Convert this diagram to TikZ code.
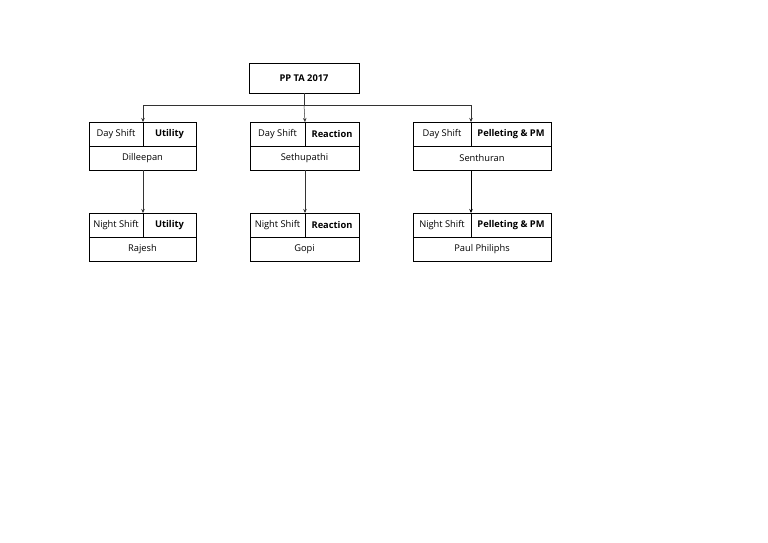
\documentclass[tikz,border=0pt]{standalone}
\usepackage{fontspec}
\setmainfont{Open Sans}
\usetikzlibrary{arrows.meta,positioning,calc}

\begin{document}
\begin{tikzpicture}[
        x=1pt,y=1pt,
        cell/.style={draw,line width=0.7pt,font=\fontsize{9.3}{11}\selectfont,minimum height=24pt,inner sep=1pt,outer sep=0pt,anchor=north west},
        head/.style={cell,font=\fontsize{9.3}{11}\selectfont\bfseries},
        arr/.style={-{Stealth[length=4pt,width=3.5pt]},line width=0.5pt,black!80}
      ]
      \useasboundingbox (0,0) rectangle (768,-543);

      % top box
      \node[draw,line width=0.7pt,font=\fontsize{9.3}{11}\selectfont\bfseries,minimum width=110pt,minimum height=30pt,outer sep=0pt] (top) at (304,-78) {PP TA 2017};

      % day shift
      \node[cell,minimum width=54pt] (dayL1) at (89,-122) {Day Shift};
      \node[head,minimum width=53pt,right=0pt of dayL1] (dayR1) {Utility};
      \node[cell,minimum width=107pt] (dayN1) at (dayL1.south west) {Dilleepan};

      \node[cell,minimum width=55pt] (dayL2) at (250,-122) {Day Shift};
      \node[head,minimum width=54pt,right=0pt of dayL2] (dayR2) {Reaction};
      \node[cell,minimum width=109pt] (dayN2) at (dayL2.south west) {Sethupathi};

      \node[cell,minimum width=58pt] (dayL3) at (413,-122) {Day Shift};
      \node[head,minimum width=80pt,right=0pt of dayL3] (dayR3) {Pelleting \& PM};
      \node[cell,minimum width=138pt] (dayN3) at (dayL3.south west) {Senthuran};

      % night shift
      \node[cell,minimum width=54pt] (nightL1) at (89,-213) {Night Shift};
      \node[head,minimum width=53pt,right=0pt of nightL1] (nightR1) {Utility};
      \node[cell,minimum width=107pt] (nightN1) at (nightL1.south west) {Rajesh};

      \node[cell,minimum width=55pt] (nightL2) at (250,-213) {Night Shift};
      \node[head,minimum width=54pt,right=0pt of nightL2] (nightR2) {Reaction};
      \node[cell,minimum width=109pt] (nightN2) at (nightL2.south west) {Gopi};

      \node[cell,minimum width=58pt] (nightL3) at (413,-213) {Night Shift};
      \node[head,minimum width=80pt,right=0pt of nightL3] (nightR3) {Pelleting \& PM};
      \node[cell,minimum width=138pt] (nightN3) at (nightL3.south west) {Paul Philiphs};

      % connectors
      \coordinate (hub) at ($(top.south)+(0,-12)$);
      \draw[line width=0.5pt,black!80] (top.south) -- (hub);
      \draw[arr] (hub) -| (dayL1.north east);
      \draw[arr] (hub) -- (dayL2.north east);
      \draw[arr] (hub) -| (dayL3.north east);

      \draw[arr] (dayN1.south -| dayL1.east) -- (nightL1.north east);
      \draw[arr] (dayN2.south -| dayL2.east) -- (nightL2.north east);
      \draw[arr,black,line width=0.7pt] (dayN3.south -| dayL3.east) -- (nightL3.north east);
    \end{tikzpicture}
\end{document}
